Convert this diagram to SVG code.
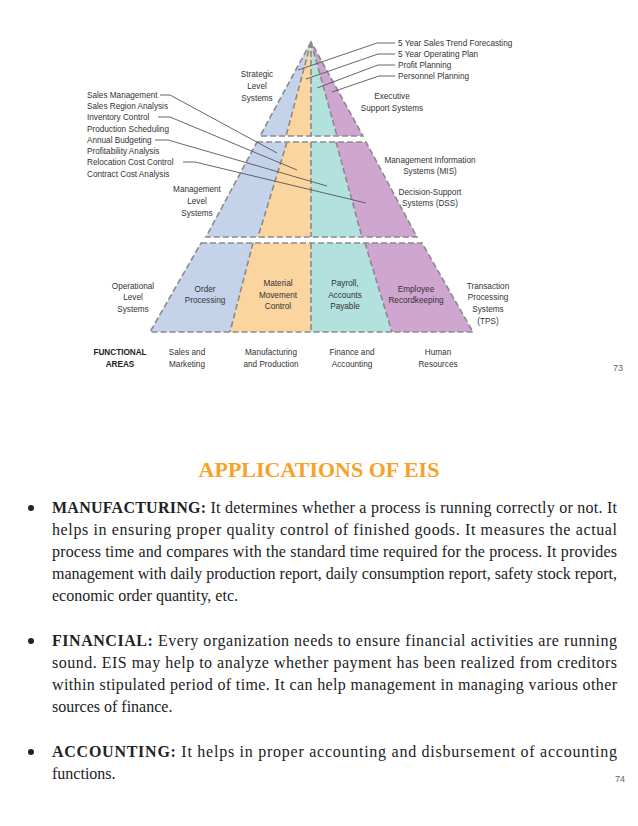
<svg xmlns="http://www.w3.org/2000/svg" width="638" height="826" viewBox="0 0 638 826">
<style>
.t{font-family:"Liberation Sans",Arial,sans-serif;font-size:8.2px;fill:#333;text-anchor:middle}
.l{font-family:"Liberation Sans",Arial,sans-serif;font-size:8.2px;fill:#333}
.d{stroke:#8a8a8a;stroke-width:1.6;stroke-dasharray:6,3;fill:none}
.ld{stroke:#555;stroke-width:0.9;fill:none}
.b{font-family:"Liberation Serif","Times New Roman",serif;font-size:16px;fill:#222}
.pg{font-family:"Liberation Sans",Arial,sans-serif;font-size:9px;fill:#666}
</style>
<rect width="638" height="826" fill="#fff"/>
<g id="pyramid">
<g id="strategic">
<polygon points="311,42 260,136 286,136" fill="#c5d3ea"/>
<polygon points="311,42 286,136 311,136" fill="#fbd59f"/>
<polygon points="311,42 311,136 337,136" fill="#b3e1dd"/>
<polygon points="311,42 337,136 363,136" fill="#cfa6cf"/>
<path class="d" d="M311,42 L260,136 L363,136 Z M311,42 L286,136 M311,42 L311,136 M311,42 L337,136"/>
</g>
<g id="management">
<polygon points="257,142 287,142 258,237 206,237" fill="#c5d3ea"/>
<polygon points="287,142 311,142 311,237 258,237" fill="#fbd59f"/>
<polygon points="311,142 336,142 362,237 311,237" fill="#b3e1dd"/>
<polygon points="336,142 366,142 417,237 362,237" fill="#cfa6cf"/>
<path class="d" d="M257,142 L366,142 L417,237 L206,237 Z M287,142 L258,237 M311,142 L311,237 M336,142 L362,237"/>
</g>
<g id="operational">
<polygon points="201,243 253,243 230,332 150,332" fill="#c5d3ea"/>
<polygon points="253,243 311,243 311,332 230,332" fill="#fbd59f"/>
<polygon points="311,243 365,243 392,332 311,332" fill="#b3e1dd"/>
<polygon points="365,243 422,243 473,332 392,332" fill="#cfa6cf"/>
<path class="d" d="M201,243 L422,243 L473,332 L150,332 Z M253,243 L230,332 M311,243 L311,332 M365,243 L392,332"/>
</g>
</g>
<g id="connectors">
<path class="ld" d="M395,43 L377,43 L298,70"/>
<path class="ld" d="M395,54 L378,54 L306,79"/>
<path class="ld" d="M395,65 L378,65 L317,88"/>
<path class="ld" d="M395,76 L379,76 L332,92"/>
<path class="ld" d="M160,95 L170,95 L277,153"/>
<path class="ld" d="M158,117 L170,117 L297,170"/>
<path class="ld" d="M155,140 L168,140 L327,186"/>
<path class="ld" d="M183,162 L195,162 L366,203"/>
</g>
<g id="labels">
<text class="l" x="398" y="46">5 Year Sales Trend Forecasting</text>
<text class="l" x="398" y="57">5 Year Operating Plan</text>
<text class="l" x="398" y="68">Profit Planning</text>
<text class="l" x="398" y="79">Personnel Planning</text>
<text class="l" x="87" y="98">Sales Management</text>
<text class="l" x="87" y="109">Sales Region Analysis</text>
<text class="l" x="87" y="120">Inventory Control</text>
<text class="l" x="87" y="132">Production Scheduling</text>
<text class="l" x="87" y="143">Annual Budgeting</text>
<text class="l" x="87" y="154">Profitability Analysis</text>
<text class="l" x="87" y="165">Relocation Cost Control</text>
<text class="l" x="87" y="177">Contract Cost Analysis</text>
<text class="t" x="257" y="77">Strategic</text><text class="t" x="257" y="89">Level</text><text class="t" x="257" y="101">Systems</text>
<text class="t" x="392" y="99">Executive</text><text class="t" x="392" y="111">Support Systems</text>
<text class="t" x="430" y="163">Management Information</text><text class="t" x="430" y="174">Systems (MIS)</text>
<text class="t" x="430" y="195">Decision-Support</text><text class="t" x="430" y="206">Systems (DSS)</text>
<text class="t" x="197" y="192">Management</text><text class="t" x="197" y="204">Level</text><text class="t" x="197" y="216">Systems</text>
<text class="t" x="133" y="289">Operational</text><text class="t" x="133" y="300">Level</text><text class="t" x="133" y="312">Systems</text>
<text class="t" x="205" y="292">Order</text><text class="t" x="205" y="303">Processing</text>
<text class="t" x="278" y="286">Material</text><text class="t" x="278" y="298">Movement</text><text class="t" x="278" y="309">Control</text>
<text class="t" x="345" y="286">Payroll,</text><text class="t" x="345" y="298">Accounts</text><text class="t" x="345" y="309">Payable</text>
<text class="t" x="416" y="292">Employee</text><text class="t" x="416" y="303">Recordkeeping</text>
<text class="t" x="488" y="289">Transaction</text><text class="t" x="488" y="300">Processing</text><text class="t" x="488" y="312">Systems</text><text class="t" x="488" y="324">(TPS)</text>
<text class="t" x="120" y="355" style="font-weight:bold;fill:#222">FUNCTIONAL</text><text class="t" x="120" y="367" style="font-weight:bold;fill:#222">AREAS</text>
<text class="t" x="187" y="355">Sales and</text><text class="t" x="187" y="367">Marketing</text>
<text class="t" x="271" y="355">Manufacturing</text><text class="t" x="271" y="367">and Production</text>
<text class="t" x="352" y="355">Finance and</text><text class="t" x="352" y="367">Accounting</text>
<text class="t" x="438" y="355">Human</text><text class="t" x="438" y="367">Resources</text>
<text class="pg" x="613" y="371">73</text>
</g>
<g id="applications">
<text x="319" y="477" text-anchor="middle" style="font-family:'Liberation Serif',serif;font-size:22px;font-weight:bold;fill:#f7a128">APPLICATIONS OF EIS</text>
<circle cx="31" cy="508" r="3" fill="#222"/>
<circle cx="31" cy="641" r="3" fill="#222"/>
<circle cx="31" cy="752" r="3" fill="#222"/>
<text class="b" x="52" y="513" textLength="565" lengthAdjust="spacing"><tspan font-weight="bold">MANUFACTURING:</tspan> It determines whether a process is running correctly or not. It</text>
<text class="b" x="52" y="535" textLength="565" lengthAdjust="spacing">helps in ensuring proper quality control of finished goods. It measures the actual</text>
<text class="b" x="52" y="557" textLength="565" lengthAdjust="spacing">process time and compares with the standard time required for the process. It provides</text>
<text class="b" x="52" y="579" textLength="565" lengthAdjust="spacing">management with daily production report, daily consumption report, safety stock report,</text>
<text class="b" x="52" y="601">economic order quantity, etc.</text>
<text class="b" x="52" y="646" textLength="565" lengthAdjust="spacing"><tspan font-weight="bold">FINANCIAL:</tspan> Every organization needs to ensure financial activities are running</text>
<text class="b" x="52" y="668" textLength="565" lengthAdjust="spacing">sound. EIS may help to analyze whether payment has been realized from creditors</text>
<text class="b" x="52" y="690" textLength="565" lengthAdjust="spacing">within stipulated period of time. It can help management in managing various other</text>
<text class="b" x="52" y="712">sources of finance.</text>
<text class="b" x="52" y="757" textLength="565" lengthAdjust="spacing"><tspan font-weight="bold">ACCOUNTING:</tspan> It helps in proper accounting and disbursement of accounting</text>
<text class="b" x="52" y="779">functions.</text>
<text class="pg" x="615" y="782">74</text>
</g>
</svg>
